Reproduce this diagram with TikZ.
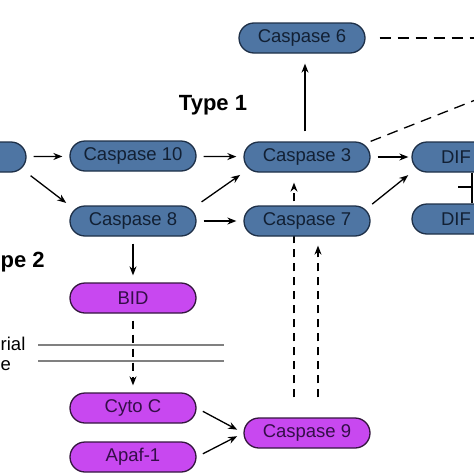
\documentclass[tikz,border=0pt]{standalone}
\usepackage{fontspec}
\setmainfont{Liberation Sans}
\usetikzlibrary{arrows.meta,backgrounds}

\definecolor{caspblue}{RGB}{78,117,163}
\definecolor{caspedge}{RGB}{30,48,72}
\definecolor{casptext}{RGB}{18,32,52}
\definecolor{bidpink}{RGB}{200,72,240}
\definecolor{bidedge}{RGB}{52,22,62}
\definecolor{bidtext}{RGB}{52,14,72}
\definecolor{membranegray}{RGB}{128,128,128}

\begin{document}
\begin{tikzpicture}[
    x=1pt,y=-1pt,
    box/.style={rounded corners=15pt,draw,line width=1.3pt,minimum width=126pt,
      minimum height=30pt,inner sep=0pt,font=\fontsize{18.5}{20}\selectfont},
    bluebox/.style={box,fill=caspblue,draw=caspedge,text=casptext},
    pinkbox/.style={box,fill=bidpink,draw=bidedge,text=bidtext},
    link/.style={-{Stealth[length=9pt,width=7pt]},line width=1.3pt,
      shorten <=7pt,shorten >=7pt},
    dlink/.style={link,dash pattern=on 8pt off 6pt},
    dline/.style={line width=1.3pt,dash pattern=on 11pt off 7pt},
    typetext/.style={inner sep=0pt,font=\bfseries\fontsize{22}{24}\selectfont},
    sidetext/.style={inner sep=0pt,font=\fontsize{18.5}{20}\selectfont}
  ]

    \useasboundingbox (0,0) rectangle (474,474);
    \clip (0,0) rectangle (474,474);

    % Type 1 row (blue)
    \node[bluebox] (recep) at (-37,157) {};
    \node[bluebox] (casp10) at (133,156) {Caspase 10};
    \node[bluebox] (casp8) at (133,221) {Caspase 8};
    \node[bluebox] (casp6) at (302,38) {Caspase 6};
    \node[bluebox] (casp3) at (307,157) {Caspase 3};
    \node[bluebox] (casp7) at (307,221) {Caspase 7};
    \node[bluebox,minimum width=88pt] (difa) at (456,157) {DIF};
    \node[bluebox,minimum width=88pt] (difb) at (456,219) {DIF};

    % Type 2 branch (pink)
    \node[pinkbox] (bid) at (133,298) {BID};
    \node[pinkbox] (cytoc) at (133,408) {Cyto C};
    \node[pinkbox] (apaf) at (133,457) {Apaf-1};
    \node[pinkbox] (casp9) at (307,433) {Caspase 9};

    % Labels
    \node[typetext,anchor=base] (typeone) at (213,110) {Type 1};
    \node[typetext,anchor=base west] (typetwo) at (0.5,267) {pe 2};
    \node[sidetext,anchor=base west] (mitoa) at (0.5,350) {rial};
    \node[sidetext,anchor=base west] (mitob) at (0.5,370) {e};

    % Membrane
    \draw[membranegray,line width=2pt] (38,345) -- (224,345);
    \draw[membranegray,line width=2pt] (38,361) -- (224,361);

    % Solid arrows
    \draw[link] (recep) -- (casp10);
    \draw[link,shorten <=5pt,shorten >=4pt] (recep.south east) -- (casp8.north west);
    \draw[link] (casp10) -- (casp3);
    \draw[link,shorten <=6pt,shorten >=4pt] (casp8.north east) -- (casp3.south west);
    \draw[link] (casp8) -- (casp7);
    \draw[link,shorten <=10pt,shorten >=10pt] ([xshift=-2pt]casp3.north) -- ([xshift=3pt]casp6.south);
    \draw[link,shorten >=3pt] (casp3) -- (difa);
    \draw[link,shorten <=2pt,shorten >=4pt] (casp7.north east) -- (difa.south west);
    \draw[link] (casp8) -- (bid);
    \draw[link] (cytoc.east) -- (casp9.west);
    \draw[link] (apaf.east) -- (casp9.west);

    % Dashed arrows
    \draw[dlink] (bid) -- (cytoc);
    \begin{scope}[on background layer]
      \draw[dlink,shorten <=20pt,shorten >=10pt] ([xshift=-13pt]casp9.north) -- ([xshift=-13pt]casp3.south);
    \end{scope}
    \draw[dlink,shorten <=20pt,shorten >=9pt] ([xshift=11pt]casp9.north) -- ([xshift=11pt]casp7.south);

    % Dashed lines leaving the frame
    \coordinate (offsix) at (520,38);
    \coordinate (offthree) at (526,80);
    \draw[dline,shorten <=14pt] (casp6) -- (offsix);
    \draw[dline] (casp3.north east) -- (offthree);

    % DIF bracket
    \coordinate (difmid) at (472,187);
    \coordinate (difstub) at (458,187);
    \draw[line width=1.5pt] (difa.south -| difmid) -- (difb.north -| difmid);
    \draw[line width=1.5pt] (difstub) -- (difmid);

  \end{tikzpicture}
\end{document}
